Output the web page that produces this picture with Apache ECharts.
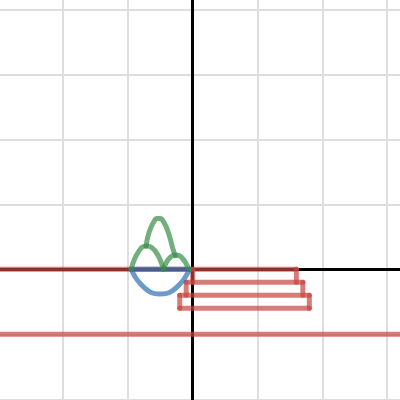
<!DOCTYPE html>
<html>
<head>
<meta charset="utf-8">
<script src="https://cdn.jsdelivr.net/npm/echarts@6/dist/echarts.min.js"></script>
<style>html,body{margin:0;padding:0;background:#fff;}#c{width:400px;height:400px;}</style>
</head>
<body>
<div id="c"></div>
<script>
// Axis ranges (graph units)
const xRange = [-3, 4];
const yRange = [-3, 5];
const tickStep = 1;

// Red step figure
const stepLeft = [0, -0.1, -0.2];
const stepRight = [1.6, 1.7, 1.8];
const stepTop = [0, -0.2, -0.4];
const stepBottom = [-0.2, -0.4, -0.6];
const topLineStartX = -3.3;   // y = 0 red line starts off the left edge
const bottomLineY = -1;
const bottomLineX = [-3.3, 4.2];

// Blue bowl and chord
const blueChordX = [-0.95, -0.05];
const blueBowlX = [-0.95, -0.88, -0.8, -0.7, -0.6, -0.5, -0.4, -0.3, -0.2, -0.12, -0.05];
const blueBowlY = [0, -0.13, -0.23, -0.32, -0.37, -0.38, -0.37, -0.32, -0.23, -0.13, 0];

// Green arches
const greenLeftX = [-0.95, -0.9, -0.83, -0.76, -0.70, -0.64, -0.57, -0.5, -0.45];
const greenLeftY = [0, 0.15, 0.28, 0.35, 0.36, 0.34, 0.27, 0.14, 0];
const greenRightX = [-0.45, -0.41, -0.36, -0.31, -0.27, -0.21, -0.16, -0.11, -0.06];
const greenRightY = [0, 0.1, 0.17, 0.21, 0.22, 0.21, 0.17, 0.1, 0];
const greenPeakX = [-0.72, -0.69, -0.65, -0.6, -0.55, -0.5, -0.45, -0.4, -0.35, -0.31, -0.27];
const greenPeakY = [0.36, 0.51, 0.63, 0.73, 0.78, 0.78, 0.73, 0.63, 0.48, 0.33, 0.21];

const RED = 'rgba(199,68,64,0.7)';
const BLUE = 'rgba(45,112,179,0.7)';
const GREEN = 'rgba(56,140,70,0.7)';
const LW = 5;

function seg(points, color) {
  return {
    type: 'line', data: points, showSymbol: false, symbol: 'none',
    smooth: false, silent: true, animation: false,
    lineStyle: { color: color, width: LW, cap: 'round', join: 'round' }
  };
}
function curve(xs, ys, color) {
  const s = seg(xs.map((x, i) => [x, ys[i]]), color);
  s.smooth = true;
  return s;
}

const series = [];
// red horizontal lines
series.push(seg([[topLineStartX, stepTop[0]], [stepRight[0], stepTop[0]]], RED));
for (let i = 1; i < stepTop.length; i++) {
  series.push(seg([[stepLeft[i], stepTop[i]], [stepRight[i], stepTop[i]]], RED));
}
const last = stepTop.length - 1;
series.push(seg([[stepLeft[last], stepBottom[last]], [stepRight[last], stepBottom[last]]], RED));
// red verticals
for (let i = 0; i < stepTop.length; i++) {
  series.push(seg([[stepLeft[i], stepTop[i]], [stepLeft[i], stepBottom[i]]], RED));
  series.push(seg([[stepRight[i], stepTop[i]], [stepRight[i], stepBottom[i]]], RED));
}
series.push(seg([[bottomLineX[0], bottomLineY], [bottomLineX[1], bottomLineY]], RED));
// blue
series.push(seg([[blueChordX[0], 0], [blueChordX[1], 0]], BLUE));
series.push(curve(blueBowlX, blueBowlY, BLUE));
// green
series.push(curve(greenLeftX, greenLeftY, GREEN));
series.push(curve(greenRightX, greenRightY, GREEN));
series.push(curve(greenPeakX, greenPeakY, GREEN));

const unitX = 64.8, unitY = 65;
const originX = 192.7, originY = 269.3;

const chart = echarts.init(document.getElementById('c'), null, { renderer: 'canvas' });
chart.setOption({
  animation: false,
  backgroundColor: '#ffffff',
  grid: {
    left: originX + xRange[0] * unitX,
    top: originY - yRange[1] * unitY,
    width: (xRange[1] - xRange[0]) * unitX,
    height: (yRange[1] - yRange[0]) * unitY,
    containLabel: false,
    outerBoundsMode: 'none'
  },
  xAxis: {
    type: 'value', min: xRange[0], max: xRange[1], interval: tickStep,
    axisLine: { show: true, onZero: true, lineStyle: { color: '#000', width: 3 } },
    axisTick: { show: false }, axisLabel: { show: false },
    splitLine: { show: true, lineStyle: { color: '#dedede', width: 2 } }
  },
  yAxis: {
    type: 'value', min: yRange[0], max: yRange[1], interval: tickStep,
    axisLine: { show: true, onZero: true, lineStyle: { color: '#000', width: 3 } },
    axisTick: { show: false }, axisLabel: { show: false },
    splitLine: { show: true, lineStyle: { color: '#dedede', width: 2 } }
  },
  series: series
});
</script>
</body>
</html>
